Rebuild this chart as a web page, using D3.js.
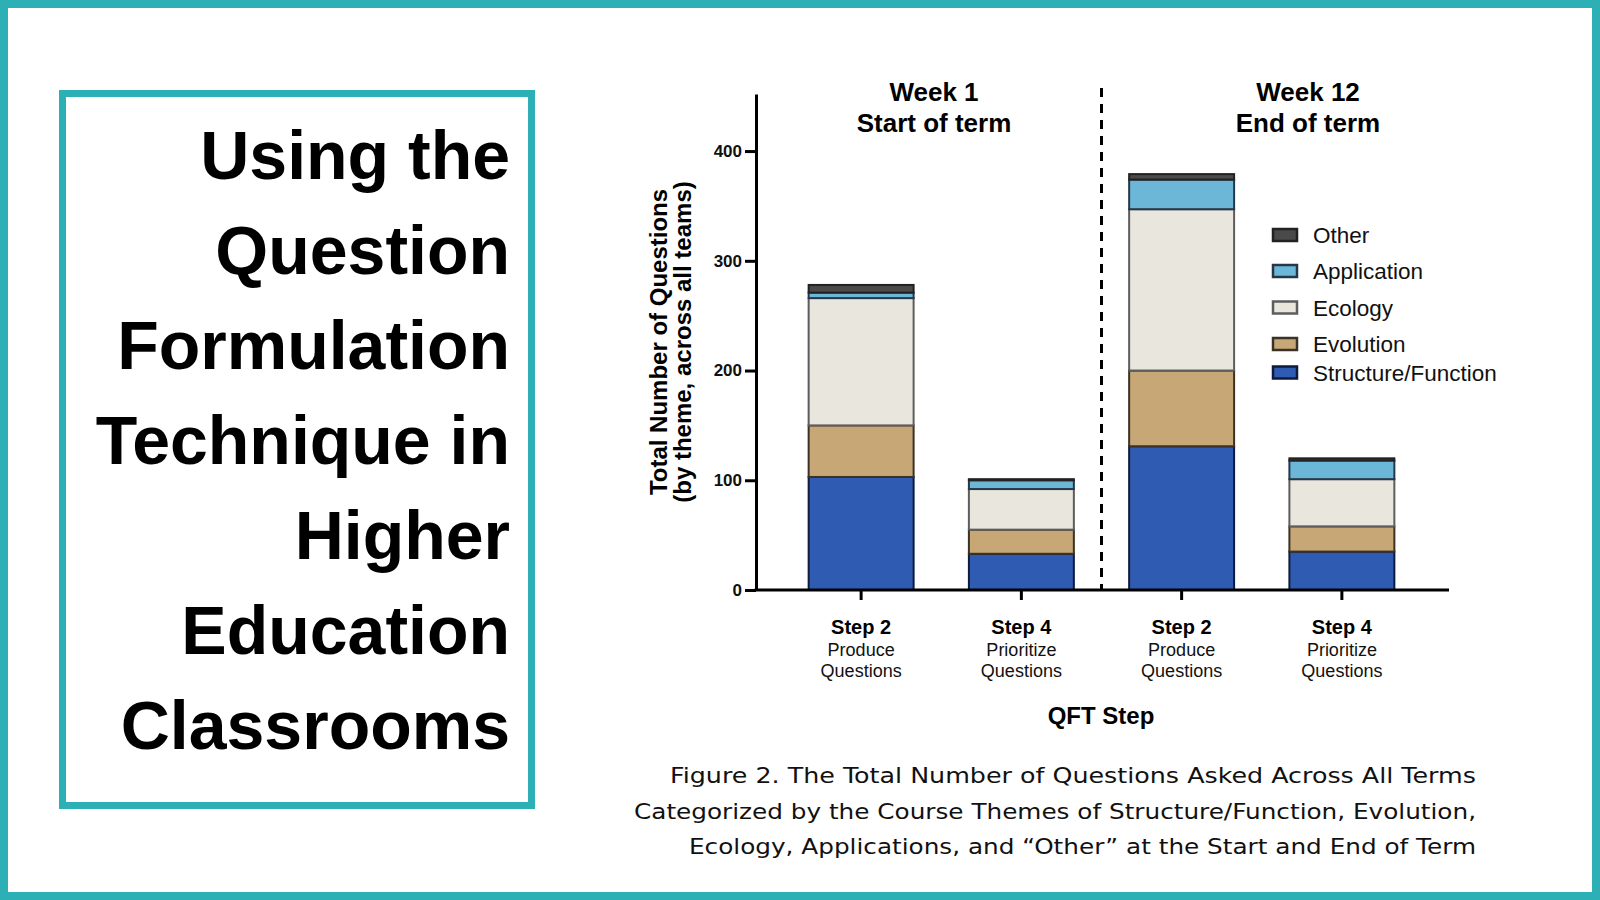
<!DOCTYPE html>
<html lang="en">
<head>
<meta charset="UTF-8">
<title>Question Formulation Technique</title>
<script src="https://cdnjs.cloudflare.com/ajax/libs/d3/7.8.5/d3.min.js"></script>
<style>
  html, body { margin: 0; padding: 0; background: #fff; }
  svg { display: block; }
  .axis line, .axis path { stroke: #000; }
</style>
</head>
<body>
<div id="chart"></div>
<script>
// data
const categories = ["W1 Step 2", "W1 Step 4", "W12 Step 2", "W12 Step 4"];
const stepLabels = ["Step 2", "Step 4", "Step 2", "Step 4"];
const stepNames = [["Produce", "Questions"], ["Prioritize", "Questions"], ["Produce", "Questions"], ["Prioritize", "Questions"]];
const themes = ["Structure/Function", "Evolution", "Ecology", "Application", "Other"];
const structureFunction = [103, 33, 131, 35];
const evolution = [47, 22, 69, 23];
const ecology = [116, 37, 147, 43];
const application = [5, 8, 27, 17];
const other = [7, 1, 5, 2];
const yTicks = [0, 100, 200, 300, 400];
const weekTitles = [["Week 1", "Start of term"], ["Week 12", "End of term"]];
const titleLines = ["Using the", "Question", "Formulation", "Technique in", "Higher", "Education", "Classrooms"];
const captionLines = [
  "Figure 2. The Total Number of Questions Asked Across All Terms",
  "Categorized by the Course Themes of Structure/Function, Evolution,",
  "Ecology, Applications, and \u201cOther\u201d at the Start and End of Term"
];

const colors = {
  "Structure/Function": "#2f5cb2",
  "Evolution": "#c7a776",
  "Ecology": "#e9e6de",
  "Application": "#6cb6d7",
  "Other": "#4a4a4a"
};
const strokes = {
  "Structure/Function": "#0e1b3c",
  "Evolution": "#3a3226",
  "Ecology": "#5d5d5d",
  "Application": "#24384a",
  "Other": "#222"
};

const W = 1600, H = 900;
const teal = "#2cb0b6";
const svg = d3.select("#chart").append("svg").attr("width", W).attr("height", H);

svg.append("rect").attr("width", W).attr("height", H).attr("fill", "#fff");
// page frame
svg.append("rect").attr("x", 4).attr("y", 4).attr("width", W - 8).attr("height", H - 8)
  .attr("fill", "none").attr("stroke", teal).attr("stroke-width", 8);

// title box
svg.append("rect").attr("x", 62.5).attr("y", 93.5).attr("width", 469).attr("height", 712)
  .attr("fill", "#fff").attr("stroke", teal).attr("stroke-width", 7);
svg.append("g").selectAll("text").data(titleLines).join("text")
  .attr("x", 510).attr("y", (d, i) => 179 + i * 95)
  .attr("text-anchor", "end")
  .attr("font-family", "'Liberation Sans', Arial, sans-serif")
  .attr("font-weight", "bold").attr("font-size", 68)
  .attr("fill", "#000").text(d => d);

// chart
const x0 = 756, x1 = 1449, yBase = 590, yTop = 94;
const table = categories.map((c, i) => ({
  cat: c,
  "Structure/Function": structureFunction[i],
  "Evolution": evolution[i],
  "Ecology": ecology[i],
  "Application": application[i],
  "Other": other[i]
}));
const series = d3.stack().keys(themes)(table);

const x = d3.scaleBand().domain(categories).range([781.4, 1421.6])
  .paddingInner(0.345).paddingOuter(0.17);
const y = d3.scaleLinear().domain([0, 452]).range([yBase, yTop]);

const font = "'Liberation Sans', Arial, sans-serif";

// bars
svg.append("g").selectAll("g").data(series).join("g")
  .attr("fill", d => colors[d.key])
  .attr("stroke", d => strokes[d.key])
  .attr("stroke-width", 2)
  .selectAll("rect").data(d => d.filter(s => s[1] - s[0] > 0)).join("rect")
  .attr("x", d => x(d.data.cat))
  .attr("width", x.bandwidth())
  .attr("y", d => y(d[1]))
  .attr("height", d => y(d[0]) - y(d[1]));

// y axis
const yAxis = svg.append("g").attr("class", "axis")
  .attr("transform", `translate(${x0},0)`)
  .call(d3.axisLeft(y).tickValues(yTicks).tickSize(11).tickPadding(3).tickSizeOuter(0));
yAxis.select(".domain").attr("stroke-width", 3);
yAxis.selectAll(".tick line").attr("stroke-width", 3);
yAxis.selectAll(".tick text").attr("font-family", font).attr("font-weight", "bold")
  .attr("font-size", 17).attr("fill", "#111");

// x axis
svg.append("line").attr("x1", x0 - 1.5).attr("x2", x1).attr("y1", yBase).attr("y2", yBase)
  .attr("stroke", "#000").attr("stroke-width", 3);
const xt = svg.append("g").selectAll("g").data(categories).join("g")
  .attr("transform", d => `translate(${x(d) + x.bandwidth() / 2},${yBase})`);
xt.append("line").attr("y1", 0).attr("y2", 10).attr("stroke", "#000").attr("stroke-width", 3);
xt.append("text").attr("y", 44).attr("text-anchor", "middle")
  .attr("font-family", font).attr("font-weight", "bold").attr("font-size", 20)
  .text((d, i) => stepLabels[i]);
xt.each(function(d, i) {
  d3.select(this).selectAll("text.sub").data(stepNames[i]).join("text")
    .attr("class", "sub")
    .attr("y", (s, j) => 66 + j * 21).attr("text-anchor", "middle")
    .attr("font-family", font).attr("font-size", 18).attr("fill", "#111")
    .text(s => s);
});

svg.append("text").attr("x", 1101).attr("y", 724).attr("text-anchor", "middle")
  .attr("font-family", font).attr("font-weight", "bold").attr("font-size", 24)
  .text("QFT Step");

// y title
const yt = svg.append("text")
  .attr("transform", `translate(667,${(yBase + yTop) / 2}) rotate(-90)`)
  .attr("text-anchor", "middle")
  .attr("font-family", font).attr("font-weight", "bold").attr("font-size", 24);
yt.append("tspan").attr("x", 0).attr("y", 0).text("Total Number of Questions");
yt.append("tspan").attr("x", 0).attr("y", 24).text("(by theme, across all teams)");

// divider between weeks
const divX = (x(categories[1]) + x.bandwidth() + x(categories[2])) / 2;
svg.append("line").attr("x1", divX).attr("x2", divX).attr("y1", 88).attr("y2", yBase)
  .attr("stroke", "#000").attr("stroke-width", 3).attr("stroke-dasharray", "9,7");

// week headers
const weekX = [934, 1308];
weekTitles.forEach((lines, i) => {
  svg.append("g").selectAll("text").data(lines).join("text")
    .attr("x", weekX[i]).attr("y", (d, j) => 101 + j * 31)
    .attr("text-anchor", "middle")
    .attr("font-family", font).attr("font-weight", "bold").attr("font-size", 26)
    .text(d => d);
});

// legend
const legendOrder = themes.slice().reverse();
const legendY = [235, 271, 307.5, 344, 372.5];
const lg = svg.append("g").selectAll("g").data(legendOrder).join("g")
  .attr("transform", (d, i) => `translate(1272,${legendY[i]})`);
lg.append("rect").attr("x", 1).attr("y", -6).attr("width", 24).attr("height", 12)
  .attr("fill", d => colors[d]).attr("stroke", d => strokes[d]).attr("stroke-width", 2.5);
lg.append("text").attr("x", 41).attr("y", 8)
  .attr("font-family", font).attr("font-size", 22.5).attr("fill", "#111")
  .text(d => d);

// caption
const capW = [806, 842, 787];
svg.append("g").selectAll("text").data(captionLines).join("text")
  .attr("x", 1476).attr("y", (d, i) => 783 + i * 35.5)
  .attr("text-anchor", "end")
  .attr("font-family", "'DejaVu Sans', sans-serif").attr("font-size", 22)
  .attr("textLength", (d, i) => capW[i]).attr("lengthAdjust", "spacingAndGlyphs")
  .attr("fill", "#111")
  .text(d => d);
</script>
</body>
</html>
